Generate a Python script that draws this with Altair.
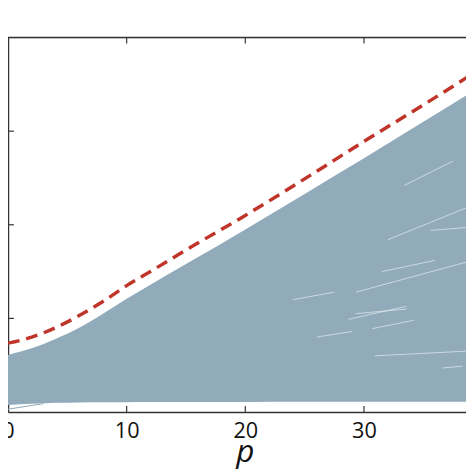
import altair as alt
import pandas as pd

# ---- data (y in units of the unlabeled tick spacing) ----
band_p  = [0, 2, 4, 6, 8, 10, 12, 15, 20, 25, 30, 35, 40]
band_hi = [0.61, 0.68, 0.78, 0.90, 1.05, 1.21, 1.36, 1.58, 1.95, 2.33, 2.71, 3.10, 3.49]
band_lo = [0.075, 0.088, 0.098, 0.102, 0.104, 0.105, 0.106, 0.107, 0.108, 0.109, 0.11, 0.11, 0.11]

red_p = [0, 2, 4, 6, 8, 10, 12, 15, 20, 25, 30, 35, 40]
red_v = [0.735, 0.80, 0.90, 1.03, 1.18, 1.35, 1.50, 1.73, 2.10, 2.49, 2.89, 3.28, 3.68]

# light gaps between the many curves (start p, start v, end p, end v)
gap_p1 = [29.3, 30.9, 29.3, 32.0, 33.4, 30.7, 35.6, 28.7, 36.6, 26.0, 24.0, 31.5]
gap_v1 = [1.28, 0.60, 1.05, 1.84, 2.42, 0.89, 1.94, 0.99, 0.47, 0.80, 1.20, 1.50]
gap_p2 = [38.6, 38.6, 33.6, 38.6, 37.5, 34.2, 38.6, 33.6, 38.3, 29.0, 27.5, 36.0]
gap_v2 = [1.60, 0.65, 1.10, 2.18, 2.68, 0.98, 1.97, 1.13, 0.49, 0.86, 1.28, 1.62]

low_p = [0, 1, 2, 3]
low_v = [0.03, 0.05, 0.07, 0.09]

x_ticks = [10, 20, 30]
y_ticks = [1, 2, 3]
x_labels = [0, 10, 20, 30, 40]

W, H = 466, 381
XDOM = [0, 38.6]
YDOM = [0, 4]

band = pd.DataFrame({"p": band_p, "hi": band_hi, "lo": band_lo})
red = pd.DataFrame({"p": red_p, "hi": red_v})
gaps = pd.DataFrame({"p": gap_p1, "hi": gap_v1, "p2": gap_p2, "v2": gap_v2})
low = pd.DataFrame({"p": low_p, "hi": low_v})
xt = pd.DataFrame({"p": x_ticks})
yt = pd.DataFrame({"hi": y_ticks})
one = pd.DataFrame({"k": [0]})

xs = alt.Scale(domain=XDOM, nice=False, zero=False)
ys = alt.Scale(domain=YDOM, nice=False, zero=False)

FILL = "#91abbb"
AX = "#333333"

x_axis = alt.Axis(
    values=x_labels, tickSize=0, grid=False, domainColor=AX, domainWidth=1.5,
    labelFont="Open Sans", labelFontSize=22, labelColor="#111", labelPadding=9,
    labelFlush=False, labelOverlap=False,
    title="p", titleFont="Open Sans", titleFontSize=32, titleFontStyle="italic",
    titleFontWeight="normal", titleColor="#111", titleBaseline="alphabetic",
    titleX=241, titleY=50)
y_axis = alt.Axis(
    values=y_ticks, labels=False, tickSize=0, grid=False, domainColor=AX,
    domainWidth=1.5, title=None)

X = alt.X("p:Q", scale=xs, axis=x_axis)
Y = alt.Y("hi:Q", scale=ys, axis=y_axis)

area = alt.Chart(band).mark_area(color=FILL, interpolate="monotone", clip=True).encode(
    x=X, y=Y, y2="lo:Q")

lowline = alt.Chart(low).mark_line(color="#8ea6b5", strokeWidth=1, clip=True).encode(x=X, y=Y)

gapl = alt.Chart(gaps).mark_rule(color="#dfe8ee", strokeWidth=1, opacity=0.75, clip=True).encode(
    x=X, y=Y, x2="p2:Q", y2="v2:Q")

redl = alt.Chart(red).mark_line(color="#c0352a", strokeWidth=3.5, strokeDash=[12, 7],
                                interpolate="monotone", clip=True).encode(x=X, y=Y)

topb = alt.Chart(one).mark_rule(color=AX, strokeWidth=1.5).encode(
    x=alt.value(0), x2=alt.value(W), y=alt.value(0))

tb = alt.Chart(xt).mark_rule(color=AX, strokeWidth=1.2).encode(
    x=X, y=alt.value(H - 6), y2=alt.value(H))
tt = alt.Chart(xt).mark_rule(color=AX, strokeWidth=1.2).encode(
    x=X, y=alt.value(0), y2=alt.value(6))
tl = alt.Chart(yt).mark_rule(color=AX, strokeWidth=1.2).encode(
    y=Y, x=alt.value(0), x2=alt.value(6))

chart = alt.layer(area, lowline, gapl, redl, topb, tb, tt, tl).properties(
    width=W, height=H,
    autosize=alt.AutoSizeParams(type="none"),
    padding={"left": 0, "top": 26, "right": 0, "bottom": 58},
).configure_view(stroke=None).configure(background="white")

chart.save("out.html", embed_options={"renderer": "svg", "actions": False})
